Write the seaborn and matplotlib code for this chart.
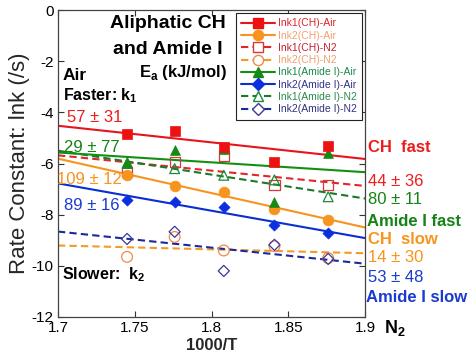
import numpy as np
import pandas as pd
import matplotlib
matplotlib.use("Agg")
import matplotlib.pyplot as plt
from matplotlib.lines import Line2D
import seaborn as sns

sns.set_theme(style="ticks")
plt.rcParams['font.family'] = ['Liberation Sans', 'DejaVu Sans']
plt.rcParams['mathtext.fontset'] = 'custom'
plt.rcParams['mathtext.rm'] = 'Liberation Sans'
plt.rcParams['mathtext.bf'] = 'Liberation Sans:bold'
plt.rcParams['axes.unicode_minus'] = False

# ---- data ----
inv_T = [1.745, 1.776, 1.808, 1.841, 1.876]
ink1_ch_air = [-4.84, -4.73, -5.35, -5.94, -5.31]
ink2_ch_air = [-6.45, -6.88, -7.10, -7.77, -8.20]
ink1_ch_n2 = [-6.33, -5.94, -5.72, -6.84, -6.84]
ink2_ch_n2 = [-9.65, -8.87, -9.40, -9.23, -9.70]
ink1_am_air = [-5.96, -5.47, -5.43, -7.50, -5.59]
ink2_am_air = [-7.42, -7.50, -7.69, -8.40, -8.71]
ink1_am_n2 = [-6.00, -6.20, -6.46, -6.64, -7.30]
ink2_am_n2 = [-8.95, -8.67, -10.20, -9.18, -9.73]

series_names = ["Ink1(CH)-Air", "Ink2(CH)-Air", "Ink1(CH)-N2", "Ink2(CH)-N2",
                "Ink1(Amide I)-Air", "Ink2(Amide I)-Air", "Ink1(Amide I)-N2", "Ink2(Amide I)-N2"]
series_values = [ink1_ch_air, ink2_ch_air, ink1_ch_n2, ink2_ch_n2,
                 ink1_am_air, ink2_am_air, ink1_am_n2, ink2_am_n2]

x_ticks = [1.7, 1.75, 1.8, 1.85, 1.9]
x_tick_labels = ["1.7", "1.75", "1.8", "1.85", "1.9"]
y_ticks = [0, -2, -4, -6, -8, -10, -12]

# styles: (marker color, filled, marker, line color, linestyle, legend text color, size)
styles = [
    ("#ee1111", True, "s", "#e8141c", "-", "#e0202a", 55),
    ("#f7941d", True, "o", "#f7941d", "-", "#f4a070", 60),
    ("#d23a3a", False, "s", "#e0282a", (0, (3.5, 2)), "#c42030", 55),
    ("#f08a4a", False, "o", "#f39a2a", (0, (3.5, 2)), "#f0a070", 60),
    ("#138a13", True, "^", "#139013", "-", "#1a8a4a", 50),
    ("#0a2ee0", True, "D", "#0a2ed0", "-", "#303090", 32),
    ("#1a8a3a", False, "^", "#1a7a2a", (0, (3.5, 2)), "#2a8a50", 50),
    ("#3a3a9a", False, "D", "#1a2a9a", (0, (3.5, 2)), "#303080", 32),
]

fig = plt.figure(figsize=(4.74, 3.63), dpi=100)
ax = fig.add_axes([58/474, 1-317/363, (365-58)/474, (317-10)/363])
ax.set_xlim(1.7, 1.9)
ax.set_ylim(-12, 0)

draw_order = [3, 7, 2, 6, 5, 1, 4, 0]
for i in draw_order:
    mc, filled, mk, lc, ls, tc, s = styles[i]
    df = pd.DataFrame({"x": inv_T, "y": series_values[i]})
    ax.set_xlim(1.7, 1.9)
    sns.regplot(data=df, x="x", y="y", ax=ax, scatter=False, ci=None, truncate=False,
                line_kws=dict(color=lc, lw=1.5, linestyle=ls))
    ax.set_xlim(1.7, 1.9)
    if filled:
        sns.scatterplot(data=df, x="x", y="y", ax=ax, marker=mk, s=s, color=mc,
                        edgecolor=mc, linewidth=0.5, zorder=4, clip_on=False)
    else:
        sns.scatterplot(data=df, x="x", y="y", ax=ax, marker=mk, s=s, facecolor="none",
                        edgecolor=mc, linewidth=0.9, zorder=4, clip_on=False)

ax.set_xlim(1.7, 1.9)
ax.set_ylim(-12, 0)
ax.set_xticks(x_ticks)
ax.set_xticklabels(x_tick_labels)
ax.set_yticks(y_ticks)
ax.tick_params(direction="in", top=True, right=True, length=4, width=0.8,
               labelsize=11, colors="#333333", labelcolor="black", pad=3)
for sp in ax.spines.values():
    sp.set_color("#444444")
    sp.set_linewidth(0.9)
ax.set_xlabel("1000/T", fontsize=12, fontweight="bold", labelpad=2)
ax.set_ylabel("Rate Constant: lnk (/s)", fontsize=16, labelpad=1)

# legend
handles = []
for i in range(8):
    mc, filled, mk, lc, ls, tc, s = styles[i]
    handles.append(Line2D([0], [0], color=lc, linestyle=ls, lw=1.5, marker=mk,
                          markersize=np.sqrt(s) * (0.95 if mk != "D" else 1.1),
                          markerfacecolor=mc if filled else "white",
                          markeredgecolor=mc))
leg = ax.legend(handles, series_names, loc="upper right", bbox_to_anchor=(0.99, 0.99),
                borderaxespad=0, fontsize=7.5, handlelength=3.2, handletextpad=0.3,
                labelspacing=0.22, borderpad=0.5, fancybox=False, framealpha=1,
                edgecolor="#222222")
leg.get_frame().set_linewidth(0.8)
for t, st in zip(leg.get_texts(), styles):
    t.set_color(st[5])

def ftext(px, py, s, color="black", size=11, weight="normal", ha="left"):
    fig.text(px/474, 1-py/363, s, color=color, fontsize=size, fontweight=weight,
             ha=ha, va="center")

RED = "#ee1c1c"; GREEN = "#148214"; ORANGE = "#f7941d"; BLUE = "#1a3ad0"

ftext(168, 24, "Aliphatic CH", size=14, weight="bold", ha="center")
ftext(168, 49, "and Amide I", size=14, weight="bold", ha="center")
ftext(227, 73, r"E$_\mathbf{a}$ (kJ/mol)", size=12, weight="bold", ha="right")
ftext(63, 75, "Air", size=12.5, weight="bold")
ftext(63, 96, r"Faster: k$_\mathbf{1}$", size=11.5, weight="bold")
ftext(67, 118, "57 ± 31", color=RED, size=12)
ftext(64, 147, "29 ± 77", color=GREEN, size=12)
ftext(57, 180, "109 ± 12", color=ORANGE, size=12)
ftext(64, 205, "89 ± 16", color=BLUE, size=12)
ftext(62, 275, r"Slower:  k$_\mathbf{2}$", size=11.5, weight="bold")

ftext(368, 148, "CH  fast", color=RED, size=12, weight="bold")
ftext(368, 182, "44 ± 36", color=RED, size=12)
ftext(368, 200, "80 ± 11", color=GREEN, size=12)
ftext(367, 222, "Amide I fast", color=GREEN, size=12, weight="bold")
ftext(368, 240, "CH  slow", color=ORANGE, size=12, weight="bold")
ftext(368, 258, "14 ± 30", color=ORANGE, size=12)
ftext(368, 277, "53 ± 48", color=BLUE, size=12)
ftext(366, 297, "Amide I slow", color=BLUE, size=12, weight="bold")
ftext(384, 328, r"N$_\mathbf{2}$", size=13, weight="bold")

fig.savefig("out.png", dpi=100)
